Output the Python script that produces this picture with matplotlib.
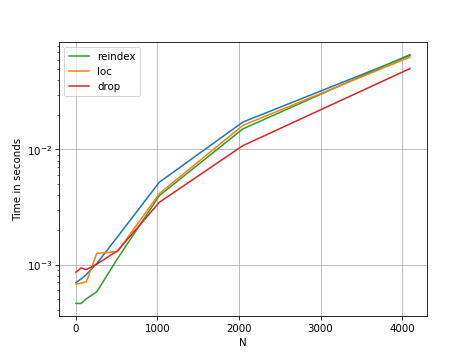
import matplotlib
matplotlib.use('Agg')
import matplotlib.pyplot as plt

N = [1, 64, 128, 256, 512, 1024, 2048, 4096]

base = [7.0e-4, 7.5e-4, 8.2e-4, 1.02e-3, 1.75e-3, 5.2e-3, 1.73e-2, 6.56e-2]
reindex = [4.6e-4, 4.6e-4, 5.05e-4, 5.8e-4, 1.13e-3, 3.98e-3, 1.51e-2, 6.67e-2]
loc = [6.8e-4, 6.9e-4, 7.1e-4, 1.25e-3, 1.3e-3, 4.14e-3, 1.62e-2, 6.35e-2]
drop = [8.6e-4, 9.35e-4, 9.05e-4, 1.01e-3, 1.32e-3, 3.48e-3, 1.08e-2, 5.04e-2]

fig, ax = plt.subplots(figsize=(6.4, 4.8), dpi=74.0625)

ax.plot(N, base, color='C0')
ax.plot(N, reindex, color='C2', label='reindex')
ax.plot(N, loc, color='C1', label='loc')
ax.plot(N, drop, color='C3', label='drop')

ax.set_yscale('log')
ax.set_xlabel('N')
ax.set_ylabel('Time in seconds')
ax.grid(True)
ax.legend(loc='upper left')

fig.savefig('out.png')
